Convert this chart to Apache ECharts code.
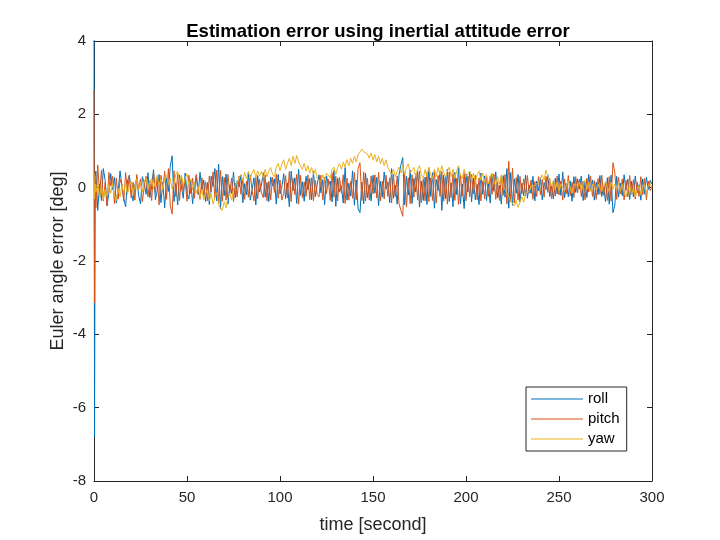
<!DOCTYPE html>
<html>
<head>
<meta charset="utf-8">
<title>Estimation error using inertial attitude error</title>
<script src="https://cdn.jsdelivr.net/npm/echarts@6/dist/echarts.min.js"></script>
<style>
  html, body { margin: 0; padding: 0; background: #fff; }
  #chart { width: 720px; height: 540px; }
</style>
</head>
<body>
<div id="chart"></div>
<script>
// first samples near t = 0 (the start-up spike)
var startTime  = [0, 0.3, 0.6];
var startRoll  = [4.6, -6.8, 0.3];
var startPitch = [2.66, -3.14, 0.2];
var startYaw   = [0.4, -0.3, 0.1];

// one sample per second, t = 1 .. 300
var roll = [
  0.45, -0.62, 0.1, -0.35, 0.52, 0.2, -0.48, -0.15, 0.38, -0.05,
  0.28, -0.42, -0.1, 0.46, 0.05, -0.3, -0.52, 0.18, 0.34, -0.12,
  -0.36, 0.08, 0.25, -0.22, -0.44, 0.3, 0.12, -0.18, 0.41, -0.27,
  0.04, 0.49, -0.33, -0.08, 0.36, -0.41, 0.15, -0.55, 0.27, -0.1,
  0.58, 0.87, -0.38, 0.12, -0.47, 0.35, 0.02, -0.29, 0.4, -0.16,
  -0.31, 0.22, -0.44, 0.06, 0.33, -0.19, 0.42, -0.07, 0.21, -0.38,
  0.14, -0.46, 0.31, 0.03, 0.52, -0.36, 0.64, -0.58, 0.3, -0.22,
  0.37, -0.45, 0.08, -0.16, 0.43, -0.28, 0.19, 0.02, 0.35, -0.41,
  0.11, -0.2, 0.39, -0.34, -0.05, 0.27, -0.47, 0.33, -0.12, 0.06,
  0.41, -0.26, 0.14, -0.38, 0.29, 0.05, 0.24, -0.45, 0.36, -0.17,
  0.02, 0.38, -0.3, 0.13, -0.52, 0.45, -0.09, 0.27, -0.43, 0.5,
  -0.21, 0.16, -0.37, 0.31, -0.06, 0.25, -0.33, 0.44, -0.24, 0.09,
  0.35, -0.14, 0.22, -0.46, 0.32, 0.07, 0.18, -0.39, 0.47, -0.51,
  0.26, -0.11, 0.04, -0.42, 0.55, -0.34, 0.12, -0.23, 0.46, -0.48,
  0.21, -0.58, -0.68, 0.15, -0.44, 0.39, -0.27, 0.08, -0.36, 0.34,
  -0.15, 0.28, -0.49, 0.17, -0.26, 0.43, -0.04, 0.16, -0.41, 0.52,
  -0.29, 0.07, -0.45, 0.36, 0.62, 0.82, -0.47, 0.31, -0.2, 0.48,
  -0.43, 0.25, -0.12, 0.47, -0.53, 0.18, -0.35, 0.29, -0.46, 0.54,
  -0.24, 0.41, -0.56, 0.22, -0.08, 0.45, -0.62, 0.34, -0.31, 0.51,
  -0.38, 0.13, -0.52, 0.42, -0.19, 0.55, -0.44, 0.1, -0.57, 0.37,
  -0.12, 0.44, -0.39, 0.26, -0.33, 0.09, -0.46, 0.4, -0.18, 0.32,
  -0.35, 0.15, -0.42, 0.37, -0.1, 0.43, -0.28, 0.06, -0.45, 0.33,
  -0.26, 0.52, -0.56, 0.41, -0.48, 0.24, -0.15, 0.36, -0.39, 0.12,
  -0.22, 0.34, -0.29, 0.07, -0.16, 0.31, -0.36, 0.18, -0.09, 0.28,
  -0.33, 0.14, -0.05, 0.35, -0.24, 0.03, -0.31, 0.26, -0.17, 0.37,
  -0.21, 0.43, -0.28, 0.11, -0.25, 0.19, -0.37, 0.3, -0.13, 0.24,
  -0.04, 0.32, -0.35, 0.16, -0.27, 0.36, -0.08, 0.21, -0.34, 0.15,
  -0.19, 0.33, -0.24, 0.05, -0.38, 0.27, -0.45, 0.34, -0.68, -0.48,
  0.31, -0.26, 0.12, -0.22, 0.35, -0.06, 0.23, -0.32, 0.17, -0.25,
  0.32, -0.14, 0.08, -0.34, 0.24, -0.18, 0.29, -0.05, 0.2, 0.1
];
var pitch = [
  -0.55, 0.62, -0.18, 0.48, -0.36, 0.14, -0.5, 0.42, 0.05, 0.31,
  -0.44, 0.26, -0.31, 0.22, 0.09, -0.37, 0.41, -0.12, 0.33, -0.28,
  0.15, -0.34, 0.36, -0.05, 0.24, -0.38, 0.02, 0.31, -0.25, 0.19,
  -0.35, 0.43, -0.14, 0.28, -0.47, 0.34, -0.06, 0.45, -0.32, 0.52,
  -0.48, -0.72, 0.46, -0.24, 0.38, -0.35, 0.27, -0.11, 0.23, -0.37,
  0.34, -0.16, 0.26, -0.29, 0.36, -0.04, -0.32, 0.27, -0.23, 0.16,
  -0.36, 0.32, -0.12, 0.43, -0.27, 0.48, -0.42, 0.47, -0.37, 0.28,
  -0.34, 0.36, -0.15, 0.26, -0.38, 0.12, -0.25, 0.32, -0.18, 0.24,
  -0.32, 0.18, -0.26, 0.34, -0.07, -0.36, 0.29, -0.31, 0.23, -0.14,
  -0.27, 0.35, -0.36, 0.17, -0.33, 0.28, -0.13, 0.37, -0.29, 0.21,
  -0.34, -0.15, 0.33, -0.28, 0.44, -0.38, 0.25, -0.19, 0.36, -0.45,
  0.34, -0.27, 0.16, -0.24, 0.35, -0.33, 0.27, -0.36, 0.2, -0.18,
  -0.25, 0.34, -0.33, 0.29, -0.16, 0.23, -0.35, 0.41, -0.26, 0.32,
  -0.36, 0.28, -0.15, 0.35, -0.43, 0.26, -0.34, 0.18, -0.29, 0.42,
  -0.33, 0.52, 0.68, -0.35, 0.43, -0.37, 0.26, -0.34, 0.32, -0.17,
  0.35, -0.28, 0.42, -0.36, 0.18, -0.31, 0.34, -0.24, 0.27, -0.42,
  0.36, -0.25, 0.32, -0.43, -0.62, -0.78, 0.42, -0.53, 0.27, -0.44,
  0.35, -0.26, 0.38, -0.34, 0.45, -0.41, 0.24, -0.36, 0.43, -0.38,
  0.27, -0.35, 0.46, -0.42, 0.33, -0.24, 0.44, -0.37, 0.28, -0.45,
  0.43, -0.27, 0.38, -0.35, 0.26, -0.46, 0.34, -0.23, 0.41, -0.36,
  0.32, -0.25, 0.36, -0.17, 0.34, -0.33, 0.27, -0.36, 0.18, -0.31,
  0.35, -0.24, 0.31, -0.18, 0.37, -0.32, 0.16, -0.35, 0.33, -0.21,
  0.36, -0.45, 0.72, -0.38, 0.53, -0.42, 0.28, -0.34, 0.31, -0.17,
  0.24, -0.22, 0.33, -0.15, 0.21, -0.32, 0.17, -0.24, 0.3, -0.19,
  0.22, -0.26, 0.31, -0.13, 0.25, -0.3, 0.16, -0.23, 0.32, -0.2,
  0.18, -0.34, 0.24, -0.16, 0.33, -0.22, 0.15, -0.27, 0.3, -0.14,
  0.23, -0.25, 0.17, -0.33, 0.26, -0.12, 0.31, -0.24, 0.19, -0.32,
  0.25, -0.18, 0.34, -0.21, 0.16, -0.35, 0.3, -0.37, 0.68, 0.42,
  -0.32, 0.28, -0.17, 0.24, -0.34, 0.2, -0.25, 0.33, -0.15, 0.22,
  -0.31, 0.16, -0.24, 0.3, -0.19, 0.25, -0.33, 0.18, -0.08, 0.02
];
var yaw = [
  -0.12, 0.15, -0.28, 0.05, -0.32, -0.05, -0.24, 0.08, -0.15, 0.12,
  -0.22, -0.35, -0.02, -0.25, 0.06, -0.14, 0.14, -0.18, 0.04, 0.16,
  -0.14, 0.05, 0.24, -0.06, 0.15, -0.12, 0.18, 0.26, -0.04, 0.14,
  0.25, -0.03, 0.16, 0.34, 0.06, 0.24, -0.05, 0.27, 0.35, 0.08,
  0.26, -0.04, 0.14, 0.36, 0.45, 0.16, 0.34, 0.06, 0.25, 0.38,
  0.05, 0.24, -0.06, 0.15, -0.15, 0.04, -0.26, -0.05, -0.34, -0.16,
  -0.06, -0.36, -0.15, -0.45, -0.26, -0.14, -0.46, -0.55, -0.62, -0.38,
  -0.55, -0.26, -0.15, -0.34, -0.05, 0.06, 0.14, 0.26, 0.35, 0.18,
  0.42, 0.25, 0.45, 0.26, 0.4, 0.5, 0.27, 0.46, 0.32, 0.44,
  0.26, 0.5, 0.3, 0.46, 0.55, 0.36, 0.3, 0.56, 0.66, 0.46,
  0.64, 0.76, 0.5, 0.66, 0.8, 0.6, 0.86, 0.66, 0.88, 0.7,
  0.7, 0.5, 0.66, 0.45, 0.6, 0.4, 0.55, 0.36, 0.5, 0.26,
  0.3, 0.16, 0.35, 0.2, 0.4, 0.45, 0.26, 0.5, 0.56, 0.36,
  0.55, 0.66, 0.5, 0.7, 0.56, 0.76, 0.6, 0.8, 0.66, 0.86,
  0.7, 0.9, 0.85, 1.05, 0.98, 1.02, 0.92, 0.8, 0.95, 0.75,
  0.9, 0.7, 0.86, 0.65, 0.8, 0.6, 0.76, 0.55, 0.45, 0.36,
  0.5, 0.3, 0.45, 0.56, 0.4, 0.6, 0.35, 0.55, 0.65, 0.4,
  0.35, 0.55, 0.3, 0.5, 0.6, 0.35, 0.25, 0.5, 0.3, 0.56,
  0.36, 0.25, 0.5, 0.3, 0.55, 0.35, 0.6, 0.4, 0.3, 0.45,
  0.56, 0.3, 0.5, 0.25, 0.45, 0.6, 0.35, 0.25, 0.5, 0.3,
  0.26, 0.45, 0.2, 0.4, 0.15, 0.35, 0.45, 0.2, 0.4, 0.15,
  0.35, 0.1, 0.3, 0.4, 0.15, 0.05, 0.3, 0.1, 0.35, 0.05,
  0.04, -0.15, -0.16, -0.35, -0.3, -0.5, -0.35, -0.54, -0.4, -0.25,
  -0.4, -0.15, -0.15, -0.1, 0.05, 0.05, 0.06, 0.1, 0.15, 0.15,
  0.35, 0.2, 0.48, 0.3, 0.25, 0.05, 0.2, -0.05, 0.15, -0.1,
  0.1, 0.05, -0.1, 0.05, 0.2, 0.0, -0.15, 0.1, 0.05, 0.05,
  0.15, -0.1, 0.1, 0.2, -0.05, 0.15, -0.1, 0.1, 0.15, -0.05,
  0.1, 0.15, -0.1, 0.05, 0.15, 0.0, -0.1, 0.15, -0.05, 0.1,
  -0.05, 0.15, -0.1, 0.1, -0.15, -0.25, -0.05, 0.05, -0.2, 0.0,
  -0.25, -0.05, 0.05, -0.2, 0.0, 0.1, -0.15, 0.05, 0.12, -0.02
];

var xTicks = [0, 50, 100, 150, 200, 250, 300];
var yTicks = [-8, -6, -4, -2, 0, 2, 4];

var axisColor = '#262626';
var fontFamily = '"Liberation Sans", Arial, Helvetica, sans-serif';
var legendLine = 'path://M0,0 L52,0 L52,1 L0,1 Z';

// pair the start-up block and the 1 s samples into [t, value] points
function buildPoints(start, body) {
    var pts = [];
    for (var i = 0; i < startTime.length; i++) {
        pts.push([startTime[i], start[i]]);
    }
    for (var j = 0; j < body.length; j++) {
        pts.push([j + 1, body[j]]);
    }
    return pts;
}

function makeAxis(kind, pos, ticks, withLabels, name) {
    var axis = {
        type: 'value',
        position: pos,
        min: ticks[0],
        max: ticks[ticks.length - 1],
        interval: ticks[1] - ticks[0],
        axisLine: { show: true, onZero: false, lineStyle: { color: axisColor, width: 1 } },
        axisTick: { show: true, inside: true, length: 5, lineStyle: { color: axisColor, width: 1 } },
        splitLine: { show: false },
        axisLabel: {
            show: withLabels,
            color: axisColor,
            fontFamily: fontFamily,
            fontSize: 15,
            margin: kind === 'x' ? 9 : 8
        }
    };
    if (name) {
        axis.name = name;
        axis.nameLocation = 'middle';
        axis.nameMoveOverlap = false;
        axis.nameGap = kind === 'x' ? 35 : 27;
        axis.nameTextStyle = { color: axisColor, fontFamily: fontFamily, fontSize: 18 };
    }
    return axis;
}

var chart = echarts.init(document.getElementById('chart'), null, { renderer: 'canvas' });

var option = {
    animation: false,
    backgroundColor: '#ffffff',
    title: {
        text: 'Estimation error using inertial attitude error',
        left: 373,
        textAlign: 'center',
        top: 17,
        textStyle: { color: '#000', fontFamily: fontFamily, fontSize: 18.5, fontWeight: 'bold' }
    },
    grid: { left: 94, right: 68, top: 41, bottom: 59, containLabel: false },
    legend: {
        orient: 'vertical',
        left: 526,
        top: 387,
        itemWidth: 52,
        itemHeight: 14,
        itemGap: 4,
        padding: [4, 7, 4, 5],
        borderColor: axisColor,
        borderWidth: 1,
        backgroundColor: '#fff',
        textStyle: { color: '#000', fontFamily: fontFamily, fontSize: 15, lineHeight: 16 },
        data: [
            { name: 'roll', icon: legendLine },
            { name: 'pitch', icon: legendLine },
            { name: 'yaw', icon: legendLine }
        ]
    },
    xAxis: [
        makeAxis('x', 'bottom', xTicks, true, 'time [second]'),
        makeAxis('x', 'top', xTicks, false)
    ],
    yAxis: [
        makeAxis('y', 'left', yTicks, true, 'Euler angle error [deg]'),
        makeAxis('y', 'right', yTicks, false)
    ],
    series: [
        { name: 'roll', type: 'line', symbol: 'none', clip: true, color: '#0072BD',
          lineStyle: { width: 1, color: '#0072BD' }, data: buildPoints(startRoll, roll) },
        { name: 'pitch', type: 'line', symbol: 'none', clip: true, color: '#D95319',
          lineStyle: { width: 1, color: '#D95319' }, data: buildPoints(startPitch, pitch) },
        { name: 'yaw', type: 'line', symbol: 'none', clip: true, color: '#EDB120',
          lineStyle: { width: 1, color: '#EDB120' }, data: buildPoints(startYaw, yaw) }
    ]
};

chart.setOption(option);
</script>
</body>
</html>
